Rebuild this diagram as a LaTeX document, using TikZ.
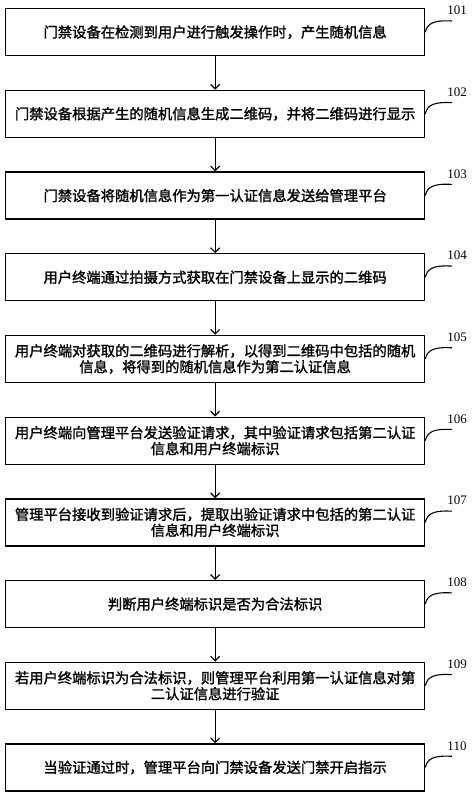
\documentclass[tikz,border=0pt]{standalone}
\usepackage{fontspec}
\newfontfamily\cjk[FakeBold=1.5]{Noto Sans CJK SC}
\newfontfamily\numfont{Liberation Serif}
\usetikzlibrary{arrows.meta,calc}
\tikzset{
  stepbox/.style={draw=black,line width=1.3pt,minimum width=419pt,minimum height=47pt,inner sep=0pt,anchor=north west,align=center,font=\cjk\fontsize{14.3pt}{16pt}\selectfont},
  flow/.style={line width=1.2pt,-{Straight Barb[length=4.5pt,width=9pt,line width=1.2pt]}},
  numlabel/.style={font=\numfont\fontsize{13pt}{13pt}\selectfont,inner sep=0pt},
  leader/.style={line width=1.1pt}
}
\begin{document}
\begin{tikzpicture}[x=1pt,y=-1pt]
\useasboundingbox (0,0) rectangle (474,795);
\node[stepbox] (b1) at (5,8) {门禁设备在检测到用户进行触发操作时，产生随机信息};
\node[stepbox] (b2) at (5,89.7) {门禁设备根据产生的随机信息生成二维码，并将二维码进行显示};
\node[stepbox] (b3) at (5,171.4) {门禁设备将随机信息作为第一认证信息发送给管理平台};
\node[stepbox] (b4) at (5,253.1) {用户终端通过拍摄方式获取在门禁设备上显示的二维码};
\node[stepbox] (b5) at (5,334.8) {用户终端对获取的二维码进行解析，以得到二维码中包括的随机\\信息，将得到的随机信息作为第二认证信息};
\node[stepbox] (b6) at (5,416.5) {用户终端向管理平台发送验证请求，其中验证请求包括第二认证\\信息和用户终端标识};
\node[stepbox] (b7) at (5,498.2) {管理平台接收到验证请求后，提取出验证请求中包括的第二认证\\信息和用户终端标识};
\node[stepbox] (b8) at (5,579.9) {判断用户终端标识是否为合法标识};
\node[stepbox] (b9) at (5,661.6) {若用户终端标识为合法标识，则管理平台利用第一认证信息对第\\二认证信息进行验证};
\node[stepbox] (b10) at (5,743.3) {当验证通过时，管理平台向门禁设备发送门禁开启指示};
\foreach \i/\n/\t in {1/101/8,2/102/89.7,3/103/171.4,4/104/253.1,5/105/334.8,6/106/416.5,7/107/498.2,8/108/579.9,9/109/661.6,10/110/743.3}{
  \node[numlabel] (l\i) at (457,\t+2.5) {\n};
  \coordinate (c\i) at (452,\t+13);
  \draw[leader] (b\i.east) .. controls ($(b\i.east)+(2,-9)$) and ($(c\i)+(-18,-1)$) .. (c\i);
}
\foreach \a/\b in {1/2,2/3,3/4,4/5,5/6,6/7,7/8,8/9,9/10}{
  \draw[flow] (b\a.south) -- (b\b.north);
}
\end{tikzpicture}
\end{document}
